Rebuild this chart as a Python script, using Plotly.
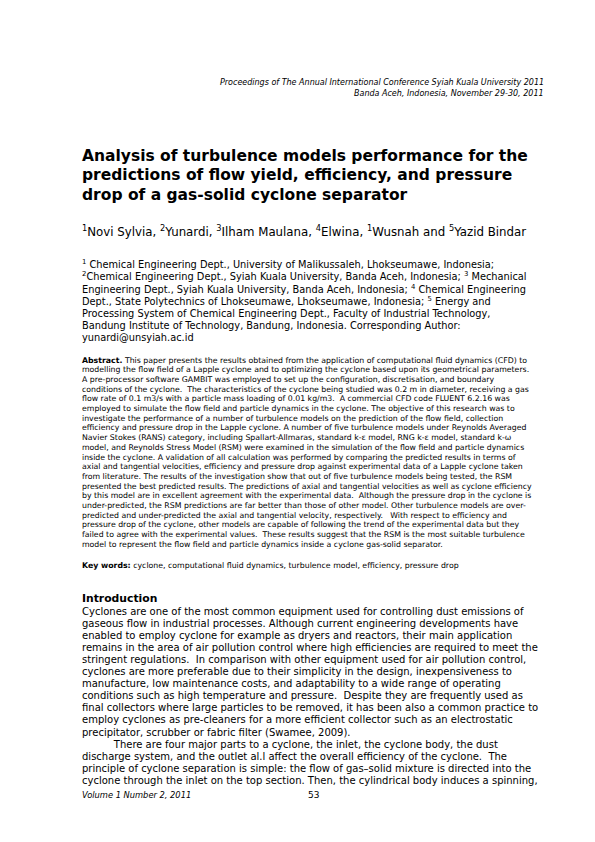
import plotly.graph_objects as go

W, H = 595, 842
header_lines = ["Proceedings of The Annual International Conference Syiah Kuala University 2011",
                "Banda Aceh, Indonesia, November 29-30, 2011"]
title_lines = ["Analysis of turbulence models performance for the",
               "predictions of flow yield, efficiency, and pressure",
               "drop of a gas-solid cyclone separator"]
authors = "<sup>1</sup>Novi Sylvia, <sup>2</sup>Yunardi, <sup>3</sup>Ilham Maulana, <sup>4</sup>Elwina, <sup>1</sup>Wusnah and <sup>5</sup>Yazid Bindar"
affil_lines = [
 "<sup>1</sup> Chemical Engineering Dept., University of Malikussaleh, Lhokseumawe, Indonesia;",
 "<sup>2</sup>Chemical Engineering Dept., Syiah Kuala University, Banda Aceh, Indonesia; <sup>3</sup> Mechanical",
 "Engineering Dept., Syiah Kuala University, Banda Aceh, Indonesia; <sup>4</sup> Chemical Engineering",
 "Dept., State Polytechnics of Lhokseumawe, Lhokseumawe, Indonesia; <sup>5</sup> Energy and",
 "Processing System of Chemical Engineering Dept., Faculty of Industrial Technology,",
 "Bandung Institute of Technology, Bandung, Indonesia. Corresponding Author:",
 "yunardi@unsyiah.ac.id"]
abstract_lines = [
 "<b>Abstract.</b> This paper presents the results obtained from the application of computational fluid dynamics (CFD) to",
 "modelling the flow field of a Lapple cyclone and to optimizing the cyclone based upon its geometrical parameters.",
 "A pre-processor software GAMBIT was employed to set up the configuration, discretisation, and boundary",
 "conditions of the cyclone.  The characteristics of the cyclone being studied was 0.2 m in diameter, receiving a gas",
 "flow rate of 0.1 m3/s with a particle mass loading of 0.01 kg/m3.  A commercial CFD code FLUENT 6.2.16 was",
 "employed to simulate the flow field and particle dynamics in the cyclone. The objective of this research was to",
 "investigate the performance of a number of turbulence models on the prediction of the flow field, collection",
 "efficiency and pressure drop in the Lapple cyclone. A number of five turbulence models under Reynolds Averaged",
 "Navier Stokes (RANS) category, including Spallart-Allmaras, standard k-ε model, RNG k-ε model, standard k-ω",
 "model, and Reynolds Stress Model (RSM) were examined in the simulation of the flow field and particle dynamics",
 "inside the cyclone. A validation of all calculation was performed by comparing the predicted results in terms of",
 "axial and tangential velocities, efficiency and pressure drop against experimental data of a Lapple cyclone taken",
 "from literature. The results of the investigation show that out of five turbulence models being tested, the RSM",
 "presented the best predicted results. The predictions of axial and tangential velocities as well as cyclone efficiency",
 "by this model are in excellent agreement with the experimental data.  Although the pressure drop in the cyclone is",
 "under-predicted, the RSM predictions are far better than those of other model. Other turbulence models are over-",
 "predicted and under-predicted the axial and tangential velocity, respectively.   With respect to efficiency and",
 "pressure drop of the cyclone, other models are capable of following the trend of the experimental data but they",
 "failed to agree with the experimental values.  These results suggest that the RSM is the most suitable turbulence",
 "model to represent the flow field and particle dynamics inside a cyclone gas-solid separator."]
keywords = "<b>Key words:</b> cyclone, computational fluid dynamics, turbulence model, efficiency, pressure drop"
intro_head = "<b>Introduction</b>"
body_lines = [
 "Cyclones are one of the most common equipment used for controlling dust emissions of",
 "gaseous flow in industrial processes. Although current engineering developments have",
 "enabled to employ cyclone for example as dryers and reactors, their main application",
 "remains in the area of air pollution control where high efficiencies are required to meet the",
 "stringent regulations.  In comparison with other equipment used for air pollution control,",
 "cyclones are more preferable due to their simplicity in the design, inexpensiveness to",
 "manufacture, low maintenance costs, and adaptability to a wide range of operating",
 "conditions such as high temperature and pressure.  Despite they are frequently used as",
 "final collectors where large particles to be removed, it has been also a common practice to",
 "employ cyclones as pre-cleaners for a more efficient collector such as an electrostatic",
 "precipitator, scrubber or fabric filter (Swamee, 2009).",
 "          There are four major parts to a cyclone, the inlet, the cyclone body, the dust",
 "discharge system, and the outlet al.l affect the overall efficiency of the cyclone.  The",
 "principle of cyclone separation is simple: the flow of gas–solid mixture is directed into the",
 "cyclone through the inlet on the top section. Then, the cylindrical body induces a spinning,"]
footer_left = "<i>Volume 1 Number 2, 2011</i>"
footer_page = "53"

F = "DejaVu Sans"
ann = []
def add(text, x, y, size, anchor="left", italic=False):
    if italic:
        text = "<i>" + text + "</i>"
    ann.append(dict(text=text, x=x / W, y=1 - y / H, xref="paper", yref="paper",
                    xanchor=anchor, yanchor="middle", showarrow=False,
                    font=dict(family=F, size=size, color="#000")))

for i, t in enumerate(header_lines):
    add(t, 538, 75 + 10 * i, 8.0, "right", italic=True)
for i, t in enumerate(title_lines):
    add("<b>" + t + "</b>", 72, 148 + 19.5 * i, 15.5)
add(authors, 72, 223, 11.8)
for i, t in enumerate(affil_lines):
    add(t, 72, 256 + 12.3 * i, 9.8)
for i, t in enumerate(abstract_lines):
    add(t, 72, 352 + 9.7 * i, 7.8)
add(keywords, 72, 557, 7.8)
add(intro_head, 72, 590, 10.8)
for i, t in enumerate(body_lines):
    add(t, 72, 603 + 12.1 * i, 10.0)
add(footer_left, 72, 787, 8.3)
add(footer_page, 305, 787, 9, "center")

fig = go.Figure()
fig.update_layout(width=W, height=H, margin=dict(l=0, r=0, t=0, b=0),
                  paper_bgcolor="white", plot_bgcolor="white",
                  xaxis=dict(visible=False, range=[0, 1]), yaxis=dict(visible=False, range=[0, 1]),
                  annotations=ann, showlegend=False)
fig.write_html("out.html")
